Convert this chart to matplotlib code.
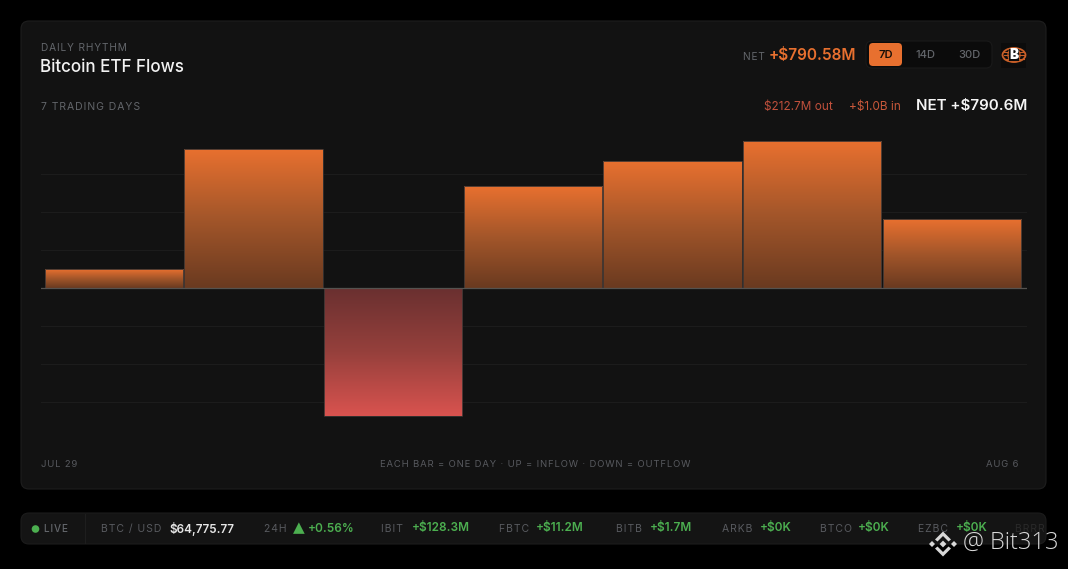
import numpy as np
import matplotlib
matplotlib.use('Agg')
import matplotlib.pyplot as plt
from matplotlib.colors import LinearSegmentedColormap
from matplotlib.patches import FancyBboxPatch, Rectangle, Ellipse, Polygon, Circle

plt.rcParams['font.family'] = ['Inter', 'DejaVu Sans']

# daily flows in $M
days = ['Jul 29', 'Jul 30', 'Jul 31', 'Aug 3', 'Aug 4', 'Aug 5', 'Aug 6']
flows = [31.2, 231.0, -212.7, 169.5, 211.0, 244.0, 114.7]
grid_values = [-189, -126, -63, 63, 126, 189]

ticker_names = ['IBIT', 'FBTC', 'BITB', 'ARKB', 'BTCO', 'EZBC']
ticker_flows = ['+$128.3M', '+$11.2M', '+$1.7M', '+$0K', '+$0K', '+$0K']
ticker_name_x = [381, 499, 616, 722, 820, 918]
ticker_flow_x = [412, 535.5, 649.5, 760, 858, 955.5]

W, H = 1068, 569
BG = '#000000'
CARD = '#121212'
ORANGE = '#e8702f'
RED = '#d9534f'
GREEN = '#4caf50'
GREY = '#63666b'
DIM = '#585a5f'


def spaced(s):
    # letter spacing: hair space between characters
    return '\u200a'.join(s)


fig = plt.figure(figsize=(W / 100, H / 100), dpi=100, facecolor=BG)

# page layer in pixel coordinates
bg = fig.add_axes([0, 0, 1, 1])
bg.set_xlim(0, W)
bg.set_ylim(H, 0)
bg.axis('off')


def box(x0, y0, x1, y1, r, fc, ec='none', lw=0.8, z=1):
    bg.add_patch(FancyBboxPatch((x0 + r, y0 + r), x1 - x0 - 2 * r, y1 - y0 - 2 * r,
                                boxstyle=f'round,pad={r},rounding_size={r}',
                                fc=fc, ec=ec, lw=lw, zorder=z))


def label(x, y, s, size, color, ha='left', weight='normal', **kw):
    bg.text(x, y, s, fontsize=size, color=color, ha=ha, va='center',
            fontweight=weight, zorder=5, **kw)


box(21, 21, 1046, 489, 8, CARD, '#1e1e1e')
box(21, 513, 1046, 544, 8, '#141414', '#1c1c1c')

label(41, 47.5, spaced('DAILY RHYTHM'), 7.3, GREY)
label(40.5, 67, 'Bitcoin ETF Flows', 12.25, '#f2f2f2', weight='medium')
label(41, 107, spaced('7 TRADING DAYS'), 7.5, GREY)

label(743, 56.5, spaced('NET'), 7.3, GREY)
label(769, 55, '+$790.58M', 11.05, ORANGE, weight='semibold')
box(866, 41, 992, 68, 6, '#0b0b0b', '#1a1a1a')
box(869, 43, 902, 66, 4, ORANGE)
label(885.5, 55, '7D', 8, '#1a1008', ha='center', weight='semibold')
label(925.5, 55, '14D', 8, GREY, ha='center', weight='medium')
label(969.5, 55, '30D', 8, GREY, ha='center', weight='medium')

# logo
bg.add_patch(Rectangle((1001, 43), 25, 25, fc='#0c0c0c', ec='none', zorder=2))
bg.add_patch(Ellipse((1014, 55), 23, 14, fc='none', ec='#c85f28', lw=1.3, zorder=3))
bg.add_patch(Ellipse((1014, 55), 12, 14, fc='none', ec='#c85f28', lw=0.9, zorder=3))
for yy in (51.5, 55, 58.5):
    bg.plot([1004, 1024], [yy, yy], color='#c85f28', lw=0.8, zorder=3)
bg.add_patch(Rectangle((1009, 49), 10, 12, fc='#0c0c0c', ec='none', zorder=4))
label(1014, 55, 'B', 10, 'white', ha='center', weight='black')

label(764, 106.5, '$212.7M out', 8.5, '#c0503c')
label(849, 106.5, '+$1.0B in', 8.5, '#c8583a')
label(1027, 105.5, 'NET +$790.6M', 10.9, '#f5f5f5', ha='right', weight='semibold')

label(41, 464, spaced('JUL 29'), 6.8, DIM)
label(535.5, 464, spaced('EACH BAR = ONE DAY · UP = INFLOW · DOWN = OUTFLOW'), 6.8, DIM, ha='center')
label(1018, 464, spaced('AUG 6'), 6.8, DIM, ha='right')

# chart
ax = fig.add_axes([41 / W, 1 - 440 / H, 986 / W, 304 / H], facecolor='none')
ax.axis('off')
for v in grid_values:
    ax.axhline(v, color='#1c1c1c', lw=0.8, zorder=1)

up_cmap = LinearSegmentedColormap.from_list('up', ['#6a3a20', '#a3562a', ORANGE])
down_cmap = LinearSegmentedColormap.from_list('down', ['#6a3030', '#96403c', RED])
ramp = np.linspace(0, 1, 256).reshape(-1, 1)

for i, v in enumerate(flows):
    cmap = up_cmap if v > 0 else down_cmap
    origin = 'lower' if v > 0 else 'upper'
    ax.imshow(ramp, cmap=cmap, origin=origin, aspect='auto', zorder=2,
              extent=(i - 0.495, i + 0.495, min(v, 0), max(v, 0)))
    ax.add_patch(Rectangle((i - 0.495, min(v, 0)), 0.99, abs(v), fc='none',
                           ec='#3a3432', lw=0.6, zorder=3))
ax.set_xlim(-0.521, 6.539)
ax.set_ylim(-252.7, 252.7)
ax.axhline(0, color='#55524f', lw=0.9, zorder=4)

# ticker strip
bg.add_patch(Circle((35.5, 529), 3.8, fc=GREEN, ec='none', zorder=5))
label(44, 529, spaced('LIVE'), 7.2, GREY, weight='medium')
bg.plot([85, 85], [514, 543], color='#1e1e1e', lw=0.8, zorder=3)
label(101, 529, spaced('BTC / USD'), 7.5, DIM)
label(169, 528.5, '$64,775.77', 8.45, '#e6e6e6', weight='semibold')
label(264, 529, spaced('24H'), 7.5, DIM)
label(293, 528, '▲', 11, GREEN, family='DejaVu Sans')
label(308, 528.5, '+0.56%', 8.5, GREEN, weight='semibold')
for name, nx, val, vx in zip(ticker_names, ticker_name_x, ticker_flows, ticker_flow_x):
    label(nx, 529, spaced(name), 7.5, DIM)
    label(vx, 528.5, val, 8.5, GREEN, weight='semibold')
label(1015, 529, spaced('BRRR'), 7.5, '#2a2a2a')

# watermark
wm = '#d8d8d8'
cx, cy = 943, 544
for dx, r in [(0, 3.4), (-11, 3), (11, 3)]:
    bg.add_patch(Polygon([(cx + dx, cy - r), (cx + dx + r, cy), (cx + dx, cy + r), (cx + dx - r, cy)],
                         fc=wm, ec='none', zorder=6))
for s in (-1, 1):
    bg.add_patch(Polygon([(cx - 8, cy + s * 4.5), (cx, cy + s * 12.5), (cx + 8, cy + s * 4.5),
                          (cx + 5.5, cy + s * 2.5), (cx, cy + s * 8), (cx - 5.5, cy + s * 2.5)],
                         fc=wm, ec='none', zorder=6))
bg.text(963, 543, '@ Bit313', fontsize=17, color=wm, va='center', ha='left',
        family='Open Sans', fontweight='light', zorder=6)

fig.savefig('out.png', dpi=100, facecolor=BG)
